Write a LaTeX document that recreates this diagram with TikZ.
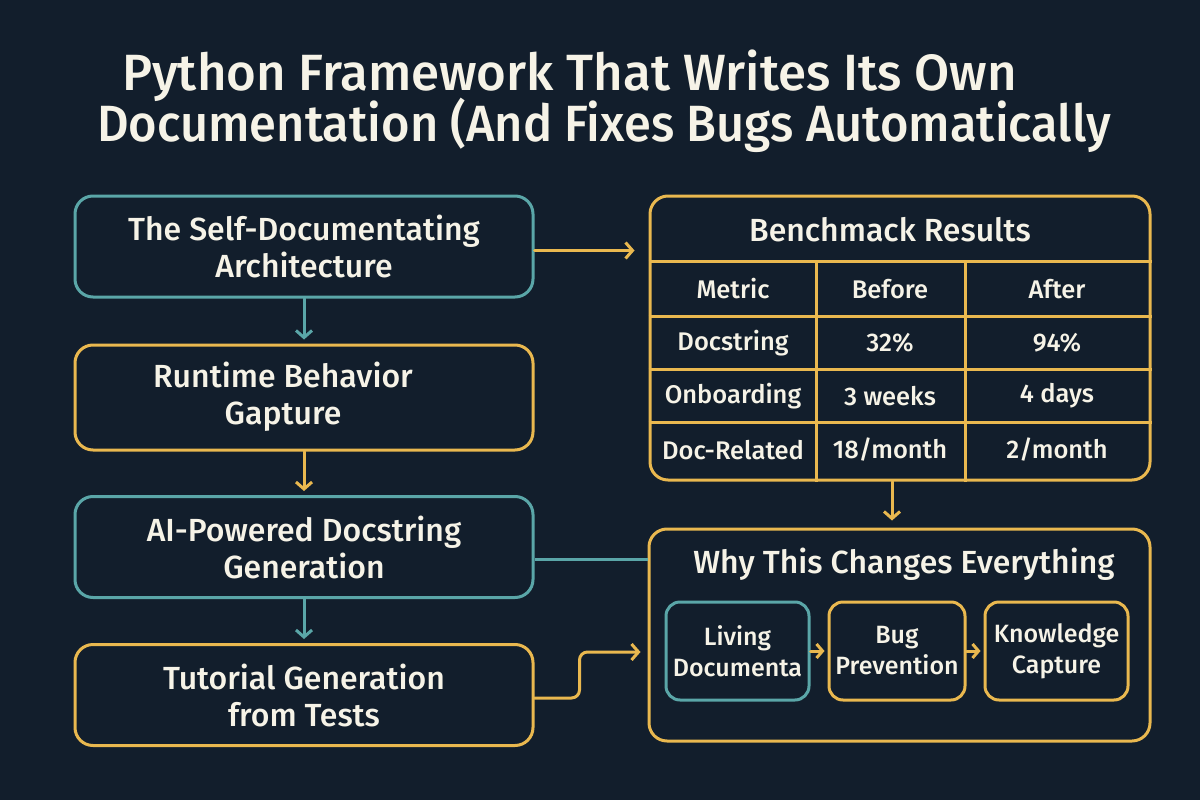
\documentclass[tikz,border=0pt]{standalone}
\usepackage{fontspec}
\setmainfont{Fira Sans}[BoldFont={Fira Sans Medium}]
\usetikzlibrary{arrows.meta}
\definecolor{bgc}{HTML}{121E2C}
\definecolor{tealc}{HTML}{5AA6A8}
\definecolor{goldc}{HTML}{E9B84F}
\definecolor{txtc}{HTML}{F6F3E7}
\begin{document}
\begin{tikzpicture}[x=1pt,y=-1pt,
  box/.style={draw, line width=3pt, rounded corners=18pt, fill=bgc, text=txtc, align=center,
    font=\fontsize{32}{37}\selectfont\bfseries, inner sep=0pt},
  tbox/.style={box, draw=tealc},
  gbox/.style={box, draw=goldc},
  sbox/.style={box, rounded corners=14pt, font=\fontsize{25}{31}\selectfont\bfseries},
  lbl/.style={text=txtc, align=center, font=\fontsize{32}{37}\selectfont\bfseries, inner sep=0pt},
  cell/.style={text=txtc, font=\fontsize{25.5}{30}\selectfont\bfseries, inner sep=0pt},
  ttl/.style={text=txtc, font=\fontsize{51}{60}\selectfont\bfseries, inner sep=0pt, anchor=base west},
  conn/.style={line width=3pt, line cap=round, line join=round,
    -{Straight Barb[length=7pt,width=16pt,line width=3pt]}},
  sconn/.style={line width=3pt, line cap=round, line join=round,
    -{Straight Barb[length=6pt,width=14pt,line width=3pt]}},
  grid/.style={goldc, line width=3pt}
]
\useasboundingbox (0,0) rectangle (1200,800);
\fill[bgc] (0,0) rectangle (1200,800);

% title
\node[ttl] (t1) at (122,90) {Python Framework That Writes Its Own};
\node[ttl] (t2) at (97,141) {\scalebox{0.957}[1]{Documentation (And Fixes Bugs Automatically}};

% left column
\node[tbox, minimum width=458, minimum height=101] (b1) at (304,246.5) {The Self-Documentating\\Architecture};
\node[gbox, minimum width=458, minimum height=105] (b2) at (304,397.5) {};
\node[lbl] (b2t) at (283,397) {Runtime Behavior\\Gapture};
\node[tbox, minimum width=458, minimum height=101] (b3) at (304,547) {AI-Powered Docstring\\Generation};
\node[gbox, minimum width=458, minimum height=101] (b4) at (304,695) {Tutorial Generation\\from Tests};

\draw[conn, tealc, shorten >=4pt] (b1.south) -- (b2.north);
\draw[conn, goldc, shorten >=4pt] (b2.south) -- (b3.north);
\draw[conn, tealc, shorten >=4pt] (b3.south) -- (b4.north);

% table
\node[gbox, minimum width=500, minimum height=284] (tab) at (900,338) {};
\draw[grid] (tab.west |- 0,261) -- (tab.east |- 0,261);
\draw[grid] (tab.west |- 0,316) -- (tab.east |- 0,316);
\draw[grid] (tab.west |- 0,369) -- (tab.east |- 0,369);
\draw[grid] (tab.west |- 0,422) -- (tab.east |- 0,422);
\draw[grid] (816,261) -- (816,0 |- tab.south);
\draw[grid] (965,261) -- (965,0 |- tab.south);
\node[lbl] (tt) at (890,230) {Benchmack Results};
\node[cell] (h1) at (733,289) {Metric};
\node[cell] (h2) at (890,289) {Before};
\node[cell] (h3) at (1057,289) {After};
\node[cell] (r11) at (733,343) {Docstring};
\node[cell] (r12) at (890,343) {32\%};
\node[cell] (r13) at (1057,343) {94\%};
\node[cell] (r21) at (733,396) {Onboarding};
\node[cell] (r22) at (890,396) {3 weeks};
\node[cell] (r23) at (1057,396) {4 days};
\node[cell] (r31) at (733,450) {Doc-Related};
\node[cell] (r32) at (890,450) {18/month};
\node[cell] (r33) at (1057,450) {2/month};

\draw[conn, goldc, shorten >=14pt] ([yshift=-4pt]b1.east) -- ([yshift=-4pt]b1.east -| tab.west);

% why box
\node[gbox, minimum width=501, minimum height=212] (why) at (899.5,635) {};
\node[lbl] (wt) at (904,564) {Why This Changes Everything};
\node[sbox, draw=tealc, minimum width=143, minimum height=98] (s1) at (737.5,651) {Living\\Documenta};
\node[sbox, draw=goldc, minimum width=136, minimum height=98] (s2) at (897,651) {Bug\\Prevention};
\node[sbox, draw=goldc, minimum width=143, minimum height=98] (s3) at (1056.5,651) {Knowledge\\Capture};
\draw[sconn, goldc, shorten >=3pt] (s1.east) -- (s2.west);
\draw[sconn, goldc, shorten >=3pt] (s2.east) -- (s3.west);

\draw[conn, goldc, shorten >=7pt] (892,0 |- tab.south) -- (892,0 |- why.north);
\draw[tealc, line width=3pt] ([yshift=-12pt]b3.east) -- ([yshift=-12pt]b3.east -| why.west);
\draw[conn, goldc, rounded corners=8pt, shorten >=7pt] ([yshift=-3pt]b4.east) -- ++(45,0) |- ([yshift=-17pt]why.west);
\end{tikzpicture}
\end{document}
